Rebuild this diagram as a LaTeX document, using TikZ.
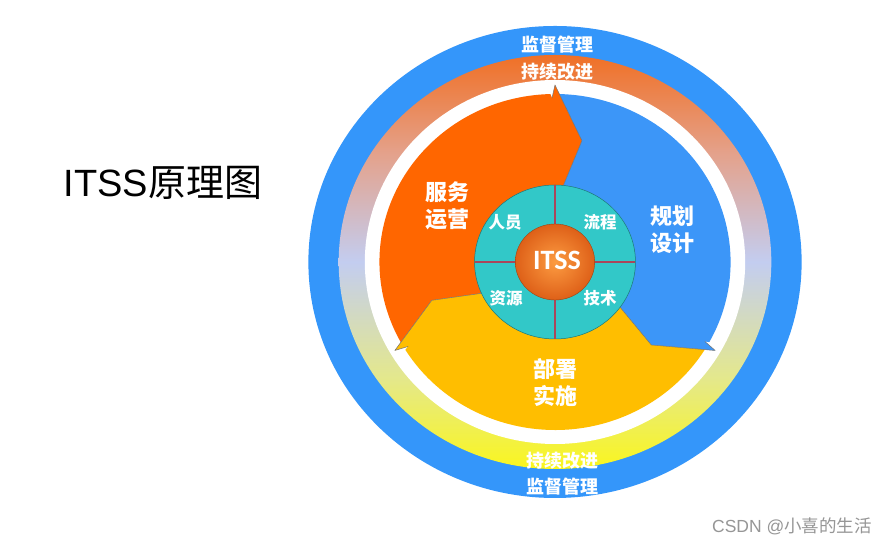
\documentclass[tikz,border=0pt]{standalone}
\usepackage{fontspec}
\setmainfont{Liberation Sans}
\newfontfamily\cjk{Noto Sans CJK SC}
\newfontfamily\carl{Carlito}
\newfontfamily\lib{Liberation Sans}
\definecolor{ringblue}{RGB}{52,150,250}
\definecolor{rorg}{RGB}{240,112,38}
\definecolor{rsal}{RGB}{228,162,140}
\definecolor{rlav}{RGB}{195,205,240}
\definecolor{ryg}{RGB}{228,232,140}
\definecolor{ry}{RGB}{250,246,30}
\definecolor{pieblue}{RGB}{60,150,248}
\definecolor{pieorange}{RGB}{255,102,0}
\definecolor{pieyellow}{RGB}{255,190,0}
\definecolor{tealc}{RGB}{50,200,200}
\definecolor{maroonc}{RGB}{170,70,90}
\definecolor{ballin}{RGB}{252,155,65}
\definecolor{ballout}{RGB}{222,96,24}
\definecolor{wmgray}{RGB}{150,150,150}
\pgfdeclareverticalshading{ringshade}{100bp}{color(0bp)=(ry); color(25bp)=(ry); color(36bp)=(ryg); color(50bp)=(rlav); color(63bp)=(rsal); color(75bp)=(rorg); color(100bp)=(rorg)}
\tikzset{
  ringtxt/.style={text=white,font=\fontsize{18}{20}\selectfont\cjk\bfseries},
  pietxt/.style={text=white,align=center,font=\fontsize{22}{27}\selectfont\cjk\bfseries},
  tealtxt/.style={text=white,font=\fontsize{16.5}{18}\selectfont\cjk\bfseries},
  edgeline/.style={draw=black!55,line width=0.5pt,line join=round},
}
% piece: #1 colour, #2 leading angle, #3 trailing angle (leading angle of next piece)
\newcommand{\mypiece}[3]{%
  \fill[#1] (0,0) -- ({#2-6}:77) -- ({#2-12}:124) -- (#2:177) -- ({#2+1}:164) -- ({#2+1.5}:168)
    arc[start angle={#2+1.5}, end angle={#3-1.43}, radius=168]
    -- ({#3-12}:124) -- ({#3-6}:77) -- cycle;}
\newcommand{\mychev}[1]{%
  \draw[edgeline] ({#1-6}:77) -- ({#1-12}:124) -- (#1:177) -- ({#1+1}:164);}
\begin{document}
\begin{tikzpicture}[x=1pt,y=1pt]
\useasboundingbox (0,0) rectangle (894,545);
\fill[white] (0,0) rectangle (894,545);
\begin{scope}[shift={(555,283)}, xscale=1.045]
  \fill[ringblue] (0,0) circle (236);
  \shade[shading=ringshade] (0,0) circle (207);
  \fill[white] (0,0) circle (182);
  \mypiece{pieorange}{90}{210}
  \mypiece{pieblue}{-30}{90}
  \mypiece{pieyellow}{210}{330}
  \mychev{90}
  \mychev{-30}
  \mychev{210}
  \fill[tealc] (0,0) circle (77);
  \draw[tealc!60!black,line width=0.5pt] (0,0) circle (77);
  \draw[maroonc,line width=2.6pt] (-77,0) -- (77,0);
  \draw[maroonc,line width=2.6pt] (0,-77) -- (0,77);
  \shade[inner color=ballin, outer color=ballout] (0,0) circle (38);
  \draw[ballout!70!black,line width=0.4pt] (0,0) circle (38);
\end{scope}
\node (title) at (163,362) {\fontsize{38}{40}\selectfont\lib ITSS\cjk 原理图};
\node[ringtxt] (jd1) at (557,500) {监督管理};
\node[ringtxt] (cx1) at (557,473) {持续改进};
\node[ringtxt] (cx2) at (562,84) {持续改进};
\node[ringtxt] (jd2) at (562,58) {监督管理};
\node[pietxt] (fw) at (447,339) {服务\\运营};
\node[pietxt] (gh) at (672,315) {规划\\设计};
\node[pietxt] (bs) at (555,162) {部署\\实施};
\node[tealtxt] (ry) at (505,323) {人员};
\node[tealtxt] (lc) at (600,323) {流程};
\node[tealtxt] (zy) at (506,247) {资源};
\node[tealtxt] (js) at (600,247) {技术};
\node[text=white,font=\fontsize{28}{30}\selectfont\carl\bfseries] (itss) at (557,285) {ITSS};
\node[text=wmgray,font=\fontsize{17.5}{19}\selectfont] (wm) at (792,19) {\lib CSDN @\cjk 小喜的生活};
\end{tikzpicture}
\end{document}
